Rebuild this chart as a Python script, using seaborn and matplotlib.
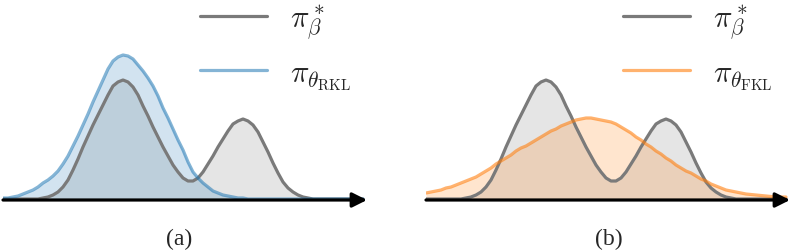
import numpy as np
import pandas as pd
import matplotlib
matplotlib.use("Agg")
import matplotlib.pyplot as plt
from matplotlib.lines import Line2D
import seaborn as sns

# ---- data (x in arbitrary units along the axis) ----
x = [0, 5, 10, 15, 20, 25, 30, 35, 40, 45, 50, 55, 60, 65, 70, 75, 80, 85, 90, 95,
     100, 105, 110, 115, 120, 125, 130, 135, 140, 145, 150, 155, 160, 165, 170, 175,
     180, 185, 190, 195, 200, 205, 210, 215, 220, 225, 230, 235, 240, 245, 250, 255,
     260, 265, 270, 275, 280, 285, 290, 295, 300, 305, 310, 315, 320, 330, 340, 350, 360]
target = [0, 0, 0, 0, 0, 0, 0, 0, 1, 2, 4, 7, 12, 19, 29, 40, 52, 63, 74, 84,
          94, 104, 113, 117, 119, 117, 112, 104, 93, 83, 72, 62, 52, 43, 34, 27,
          21, 18, 18, 21, 27, 35, 43, 52, 60, 68, 75, 78, 80, 78, 74, 67,
          57, 47, 36, 26, 17, 11, 7, 4, 2, 1, 0, 0, 0, 0, 0, 0, 0]
rkl = [1, 1, 2, 3, 5, 7, 9, 12, 16, 19, 23, 28, 35, 43, 53, 63, 74, 85, 97, 108,
       119, 130, 138, 142, 144, 143, 140, 134, 128, 121, 113, 103, 91, 81, 70, 59,
       49, 37, 27, 21, 16, 12, 8, 6, 4, 3, 2, 1, 1, 0, 0, 0,
       0, 0, 0, 0, 0, 0, 0, 0, 0, 0, 0, 0, 0, 0, 0, 0, 0]
fkl = [6, 7, 8, 9, 11, 12, 14, 16, 18, 20, 22, 25, 28, 31, 35, 38, 41, 44, 48, 51,
       53, 56, 59, 62, 65, 68, 70, 73, 75, 77, 79, 80, 81, 81, 80, 79,
       78, 77, 75, 72, 69, 66, 62, 59, 55, 52, 48, 45, 41, 38, 34, 31,
       28, 26, 23, 20, 18, 15, 13, 11, 9, 8, 7, 6, 5, 4, 3, 2, 2]
target_label = r"$\pi^*_\beta$"
model_labels = [r"$\pi_{\theta_{\mathrm{RKL}}}$", r"$\pi_{\theta_{\mathrm{FKL}}}$"]
captions = ["(a)", "(b)"]

sns.set_style("white")
plt.rcParams["mathtext.fontset"] = "cm"

grey_line = "#7a7a7a"
grey_fill = (0.5, 0.5, 0.5, 0.2)
model_line = [(31/255, 119/255, 180/255, 0.55), (1.0, 127/255, 14/255, 0.6)]
model_fill = [(31/255, 119/255, 180/255, 0.2), (1.0, 127/255, 14/255, 0.2)]

W, H = 794, 253
fig = plt.figure(figsize=(W/100, H/100), dpi=100)
lefts = [3, 426]
cap_x = [179, 609]
models = [rkl, fkl]

for i in range(2):
    ax = fig.add_axes([lefts[i]/W, (H-210)/H, 364/W, 200/H])
    df = pd.DataFrame({"x": x, "target": target, "model": models[i]})
    ax.fill_between(df["x"], 0, df["target"], color=grey_fill, lw=0)
    sns.lineplot(data=df, x="x", y="target", ax=ax, color=grey_line, lw=2.3)
    ax.fill_between(df["x"], 0, df["model"], color=model_fill[i], lw=0)
    sns.lineplot(data=df, x="x", y="model", ax=ax, color=model_line[i], lw=2.3)
    ax.set_xlim(0, 364)
    ax.set_ylim(-10, 190)
    ax.set_axis_off()
    ax.annotate("", xy=(364, -1), xytext=(0, -1),
                arrowprops=dict(arrowstyle="-|>", color="black", lw=2.3,
                                mutation_scale=22, shrinkA=0, shrinkB=0),
                annotation_clip=False)
    handles = [Line2D([], [], color=grey_line, lw=2.3),
               Line2D([], [], color=model_line[i], lw=2.3)]
    ax.legend(handles, [target_label, model_labels[i]], loc="upper left",
              bbox_to_anchor=(197, 196), bbox_transform=ax.transData,
              frameon=False, fontsize=22, handlelength=2.2, handletextpad=0.75,
              borderpad=0, borderaxespad=0, labelspacing=0.5)
    fig.text(cap_x[i]/W, 1 - 239/H, captions[i], ha="center", va="center",
             family=["Liberation Serif", "DejaVu Serif"], fontsize=17)

fig.savefig("out.png", dpi=100)
